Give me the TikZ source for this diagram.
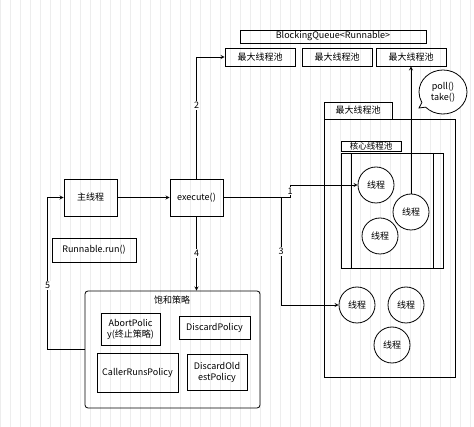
\documentclass[tikz,border=0pt]{standalone}
\usepackage{fontspec}
\setmainfont{Noto Sans CJK SC}
\usepackage{tikz}
\usetikzlibrary{shapes,shapes.callouts,arrows,positioning}

\begin{document}
\begin{tikzpicture}[x=1pt, y=-1pt,
    box/.style={rectangle, draw, line width=0.8pt, inner sep=0pt, font=\fontsize{9}{11}\selectfont, align=center},
    thread/.style={circle, draw, line width=0.8pt, minimum size=36pt, inner sep=0pt, font=\fontsize{9}{11}\selectfont},
    lbl/.style={fill=white, inner sep=1pt, font=\fontsize{9}{11}\selectfont},
    arrow/.style={->, >=stealth, line width=0.8pt}]

    \useasboundingbox (0,0) rectangle (474,427);
    \fill[white] (0,0) rectangle (474,427);
    \draw[black!7, line width=0.3pt, step=10] (0,0) grid (474,427);

    % Queue on top
    \node[box, minimum width=186pt, minimum height=13pt] (queue) at (333,36.5) {BlockingQueue<Runnable>};
    \node[box, minimum width=70pt, minimum height=18pt] (pool1) at (260,57) {最大线程池};
    \node[box, minimum width=70pt, minimum height=18pt] (pool2) at (337,57) {最大线程池};
    \node[box, minimum width=70pt, minimum height=18pt] (pool3) at (411,57) {最大线程池};
    \node[ellipse callout, draw, line width=0.8pt, fill=white, minimum width=48pt, minimum height=44pt, inner sep=0pt, align=center, font=\fontsize{9}{11}\selectfont, callout absolute pointer={(419,108)}] (poll) at (443,92) {poll()\\take()};

    % Max pool
    \node[box, minimum width=68pt, minimum height=17pt] (maxtab) at (358,110.5) {最大线程池};
    \node[box, minimum width=131pt, minimum height=258pt] (maxpool) at (389.5,248) {};

    % Core pool
    \node[box, minimum width=60pt, minimum height=10pt, font=\fontsize{8.5}{10}\selectfont] (coretab) at (371,146) {核心线程池};
    \node[box, minimum width=102pt, minimum height=115pt] (core) at (392,210.5) {};
    \draw[line width=0.8pt] (351,153) -- (351,268);
    \draw[line width=0.8pt] (433,153) -- (433,268);

    % Threads
    \node[thread, fill=white] (c1) at (376,185) {线程};
    \node[thread, fill=white] (c3) at (380,236) {线程};
    \node[thread, fill=white] (c2) at (411,212) {线程};
    \node[thread] (c4) at (357,305) {线程};
    \node[thread] (c5) at (406,305) {线程};
    \node[thread] (c6) at (392,345) {线程};

    % Left column
    \node[box, minimum width=53pt, minimum height=37pt] (main) at (90.5,197.5) {主线程};
    \node[box, minimum width=53pt, minimum height=37pt] (exec) at (196.5,197.5) {execute()};
    \node[box, minimum width=84pt, minimum height=24pt] (run) at (94,250) {Runnable.run()};

    % Rejection policies
    \node[box, rounded corners=3pt, minimum width=175pt, minimum height=117pt] (policy) at (172.5,349.5) {};
    \node[font=\fontsize{9}{11}\selectfont] (ptitle) at (172,300) {饱和策略};
    \node[box, minimum width=59pt, minimum height=32pt] (abort) at (130.5,329) {AbortPolic\\y(终止策略)};
    \node[box, minimum width=71pt, minimum height=23pt] (discard) at (214.5,327.5) {DiscardPolicy};
    \node[box, minimum width=81pt, minimum height=39pt] (caller) at (137.5,372.5) {CallerRunsPolicy};
    \node[box, minimum width=60pt, minimum height=36pt] (oldest) at (217,372) {DiscardOld\\estPolicy};

    % Connections
    \coordinate (fork1) at (290,197.5);
    \coordinate (fork3) at (281,197.5);
    \draw[arrow] (main) -- (exec);
    \draw[arrow] (exec.north) |- (pool1.west) node[lbl, pos=0.3] {2};
    \draw[arrow] (exec.east) -- (fork1) |- (c1.west) node[lbl, pos=0.25] {1};
    \draw[arrow] (fork3) |- (c4.west) node[lbl, pos=0.25] {3};
    \draw[arrow] (exec.south) -- (exec.south |- policy.north) node[lbl, midway] {4};
    \draw[arrow] (policy.west) -- ++(-37,0) |- (main.west) node[lbl, pos=0.21] {5};
    \draw[arrow] (c2.north) -- (c2.north |- pool3.south);
\end{tikzpicture}
\end{document}
